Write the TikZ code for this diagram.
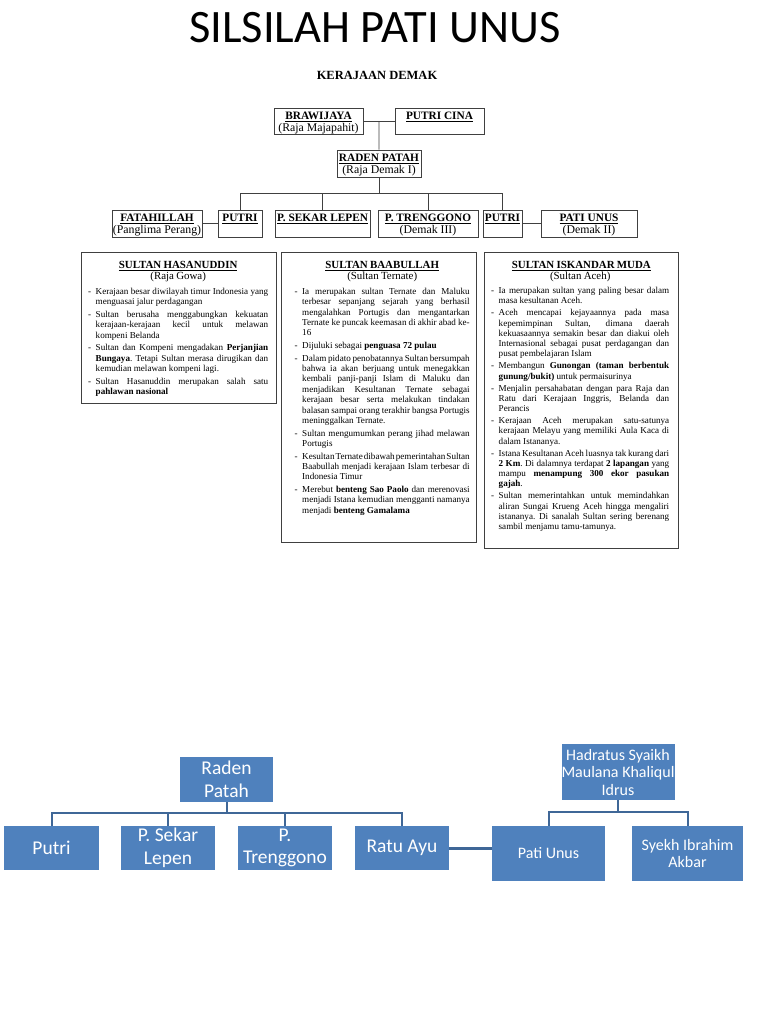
\documentclass[tikz,border=0pt]{standalone}
\usepackage{fontspec}
\setmainfont{Liberation Serif}
\newfontfamily\carlito{Carlito}
\usetikzlibrary{calc}
\definecolor{boxblue}{HTML}{4F81BD}
\definecolor{linkblue}{HTML}{3F6797}
\definecolor{framegray}{HTML}{404040}
\newcommand\tb[1]{\rule{0pt}{11pt}\textbf{\underline{#1}}}
\newcommand\sbt[1]{{\fontsize{11.8}{11.5}\selectfont #1}}
\newcommand\bodysetup{\hyphenpenalty=10000\exhyphenpenalty=10000\tolerance=10000\hbadness=10000\hfuzz=3pt\spaceskip=.25em plus .6em minus .15em\xspaceskip=.25em plus .6em minus .15em}
\newlength\bulgap
\setlength\bulgap{2.2pt}
\newcommand\btitle[2]{{\centering\fontsize{10.9}{11.2}\selectfont\textbf{\underline{#1}}\par #2\par}\vspace{2pt}}
\newcommand\bul[1]{\par\vspace{\bulgap}\hangindent=7.5pt\hangafter=1\noindent\makebox[7.5pt][l]{-}#1\par}
\newcommand\lb{\linebreak}
\begin{document}
\begin{tikzpicture}[x=1pt,y=-1pt,
  topbox/.style={draw=framegray, line width=0.9pt, align=center, inner sep=0pt, minimum height=26pt, font=\fontsize{11.3}{11.5}\selectfont},
  sbox/.style={draw=framegray, line width=1.2pt, inner sep=0pt, anchor=north west},
  btext/.style={inner sep=0pt, align=justify, anchor=north west, font=\fontsize{9.1}{10.4}\selectfont},
  bluebox/.style={fill=boxblue, text=white, align=center, inner sep=0pt, font=\carlito\fontsize{19.5}{22.5}\selectfont},
  smallblue/.style={bluebox, font=\carlito\fontsize{16}{17.5}\selectfont},
  topline/.style={draw=framegray, line width=0.7pt},
  blueline/.style={draw=linkblue, line width=2pt}]
\useasboundingbox (0,0) rectangle (768,1024);
\fill[white] (0,0) rectangle (768,1024);

% titles
\node[font=\carlito\fontsize{46.5}{50}\selectfont, anchor=base, inner sep=0pt] (title) at (375,43) {SILSILAH PATI UNUS};
\node[font=\bfseries\fontsize{12.5}{14}\selectfont, anchor=base, inner sep=0pt] (kd) at (377,80) {KERAJAAN DEMAK};

% top family tree
\node[topbox, minimum width=89pt] (braw) at (318.5,121.5) {\tb{BRAWIJAYA}\\\sbt{(Raja Majapahit)}};
\node[topbox, minimum width=89pt] (pcina) at (439.5,121.5) {\tb{PUTRI CINA}\\\sbt{\phantom{(Raja)}}};
\node[topbox, minimum width=84pt, minimum height=27pt] (rp) at (379,163.5) {\tb{RADEN PATAH}\\\sbt{(Raja Demak I)}};
\node[topbox, minimum width=90pt, minimum height=27pt] (fata) at (157,223.5) {\tb{FATAHILLAH}\\\sbt{(Panglima Perang)}};
\node[topbox, minimum width=44pt, minimum height=27pt] (putriL) at (240,223.5) {\tb{PUTRI}\\\sbt{\phantom{(Raja)}}};
\node[topbox, minimum width=95pt, minimum height=27pt] (sekar) at (322.5,223.5) {\tb{P. SEKAR LEPEN}\\\sbt{\phantom{(Raja)}}};
\node[topbox, minimum width=100pt, minimum height=27pt] (treng) at (428,223.5) {\tb{P. TRENGGONO}\\\sbt{(Demak III)}};
\node[topbox, minimum width=39pt, minimum height=27pt] (putriR) at (502.5,223.5) {\tb{PUTRI}\\\sbt{\phantom{(Raja)}}};
\node[topbox, minimum width=96pt, minimum height=27pt] (pati) at (589,223.5) {\tb{PATI UNUS}\\\sbt{(Demak II)}};

\coordinate (j1) at ($(braw.east)!0.5!(pcina.west)$);
\coordinate (bus) at ($(rp.south)+(0,16)$);
\draw[topline] (braw.east) -- (pcina.west);
\draw[topline] (j1) -- (rp.north);
\draw[topline] (rp.south) -- (bus);
\draw[topline] (putriL.north) |- (bus) -| (putriR.north);
\draw[topline] (sekar.north) -- (sekar.north |- bus);
\draw[topline] (treng.north) -- (treng.north |- bus);
\draw[topline] (fata.east) -- (putriL.west);
\draw[topline] (putriR.east) -- (pati.west);

% description boxes
\node[sbox, minimum width=195pt, minimum height=151pt] (hbox) at (81,252) {};
\node[btext, text width=180pt] (htext) at (88,261) {\bodysetup
\btitle{SULTAN HASANUDDIN}{(Raja Gowa)}
\bul{Kerajaan besar diwilayah timur Indonesia yang\lb menguasai jalur perdagangan}
\bul{Sultan berusaha menggabungkan kekuatan\lb kerajaan-kerajaan kecil untuk melawan\lb kompeni Belanda}
\bul{Sultan dan Kompeni mengadakan \textbf{Perjanjian\lb Bungaya}. Tetapi Sultan merasa dirugikan dan\lb kemudian melawan kompeni lagi.}
\bul{Sultan Hasanuddin merupakan salah satu\lb \textbf{pahlawan nasional}}};

\node[sbox, minimum width=195pt, minimum height=290pt] (bbox) at (281,252) {};
\node[btext, text width=175pt] (btxt) at (294.5,261) {\bodysetup
\btitle{SULTAN BAABULLAH}{(Sultan Ternate)}
\bul{Ia merupakan sultan Ternate dan Maluku\lb terbesar sepanjang sejarah yang berhasil\lb mengalahkan Portugis dan mengantarkan\lb Ternate ke puncak keemasan di akhir abad ke-\lb 16}
\bul{Dijuluki sebagai \textbf{penguasa 72 pulau}}
\bul{Dalam pidato penobatannya Sultan bersumpah\lb bahwa ia akan berjuang untuk menegakkan\lb kembali panji-panji Islam di Maluku dan\lb menjadikan Kesultanan Ternate sebagai\lb kerajaan besar serta melakukan tindakan\lb balasan sampai orang terakhir bangsa Portugis\lb meninggalkan Ternate.}
\bul{Sultan mengumumkan perang jihad melawan\lb Portugis}
\bul{Kesultan Ternate dibawah pemerintahan Sultan\lb Baabullah menjadi kerajaan Islam terbesar di\lb Indonesia Timur}
\bul{Merebut \textbf{benteng Sao Paolo} dan merenovasi\lb menjadi Istana kemudian mengganti namanya\lb menjadi \textbf{benteng Gamalama}}};

\node[sbox, minimum width=194pt, minimum height=296pt] (ibox) at (484,252) {};
\node[btext, text width=178pt, font=\fontsize{9.1}{10.3}\selectfont] (itxt) at (491,261) {\bodysetup\setlength\bulgap{1.6pt}
\btitle{SULTAN ISKANDAR MUDA}{(Sultan Aceh)}
\bul{Ia merupakan sultan yang paling besar dalam\lb masa kesultanan Aceh.}
\bul{Aceh mencapai kejayaannya pada masa\lb kepemimpinan Sultan, dimana daerah\lb kekuasaannya semakin besar dan diakui oleh\lb Internasional sebagai pusat perdagangan dan\lb pusat pembelajaran Islam}
\bul{Membangun \textbf{Gunongan (taman berbentuk\lb gunung/bukit)} untuk permaisurinya}
\bul{Menjalin persahabatan dengan para Raja dan\lb Ratu dari Kerajaan Inggris, Belanda dan\lb Perancis}
\bul{Kerajaan Aceh merupakan satu-satunya\lb kerajaan Melayu yang memiliki Aula Kaca di\lb dalam Istananya.}
\bul{Istana Kesultanan Aceh luasnya tak kurang dari\lb \textbf{2 Km}. Di dalamnya terdapat \textbf{2 lapangan} yang\lb mampu \textbf{menampung 300 ekor pasukan\lb gajah}.}
\bul{Sultan memerintahkan untuk memindahkan\lb aliran Sungai Krueng Aceh hingga mengaliri\lb istananya. Di sanalah Sultan sering berenang\lb sambil menjamu tamu-tamunya.}};

% bottom chart
\node[bluebox, minimum width=93pt, minimum height=45pt] (rp2) at (226.5,779.5) {Raden\\Patah};
\node[bluebox, minimum width=95pt, minimum height=44pt] (putri2) at (51.5,848) {Putri};
\node[bluebox, minimum width=94pt, minimum height=44pt] (sekar2) at (168,848) {P. Sekar\\Lepen};
\node[bluebox, minimum width=94pt, minimum height=44pt] (treng2) at (285,848) {P.\\Trenggono};
\node[bluebox, minimum width=94pt, minimum height=44pt] (ratu) at (402,848) {Ratu Ayu};
\node[smallblue, minimum width=112pt, minimum height=56pt] (hadr) at (618,772) {Hadratus Syaikh\\Maulana Khaliqul\\Idrus};
\node[smallblue, minimum width=113pt, minimum height=55pt] (pati2) at (548.5,853.5) {Pati Unus};
\node[smallblue, minimum width=111pt, minimum height=55pt] (syekh) at (687.5,853.5) {Syekh Ibrahim\\Akbar};

\coordinate (bus2) at ($(rp2.south)+(0,11)$);
\draw[blueline] (rp2.south) -- (bus2);
\draw[blueline] (putri2.north) |- (bus2) -| (ratu.north);
\draw[blueline] (sekar2.north) -- (sekar2.north |- bus2);
\draw[blueline] (treng2.north) -- (treng2.north |- bus2);
\coordinate (bus3) at ($(hadr.south)+(0,12)$);
\draw[blueline] (hadr.south) -- (bus3);
\draw[blueline] (pati2.north) |- (bus3) -| (syekh.north);
\draw[blueline, line width=3pt] (ratu.east) -- (ratu.east -| pati2.west);
\end{tikzpicture}
\end{document}
